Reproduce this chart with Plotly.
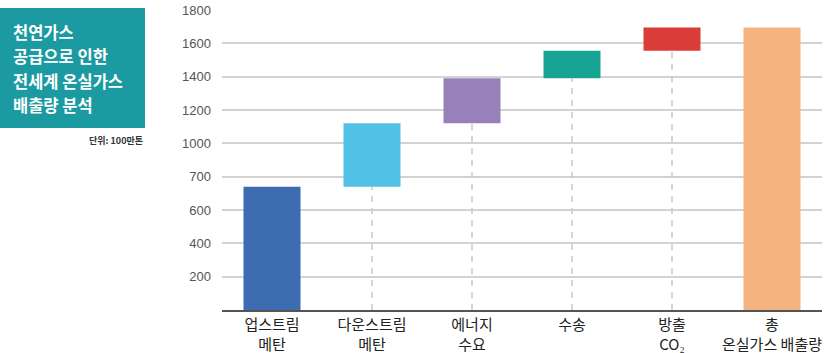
import plotly.graph_objects as go

categories = ["업스트림<br>메탄", "다운스트림<br>메탄", "에너지<br>수요", "수송", "방출<br>CO₂", "총<br>온실가스 배출량"]
steps = [740, 380, 270, 165, 140]
colors = ["#3e6cb0", "#50c0e4", "#9881b8", "#17a494", "#da3d39", "#f5b37f"]
tick_vals = [200, 400, 600, 800, 1000, 1200, 1400, 1600, 1800]
tick_text = ["200", "400", "600", "700", "1000", "1200", "1400", "1600", "1800"]
title_lines = ["천연가스", "공급으로 인한", "전세계 온실가스", "배출량 분석"]

bases = []
acc = 0
for s in steps:
    bases.append(acc)
    acc += s
total = acc
heights = steps + [total]
bar_bases = bases + [0]

fig = go.Figure()

fig.add_trace(go.Bar(
    x=categories, y=heights, base=bar_bases,
    marker=dict(color=colors, line=dict(width=0)),
    width=0.57, showlegend=False))

# dashed connectors from each floating bar's base down to zero
for i in range(1, len(steps)):
    fig.add_trace(go.Scatter(
        x=[categories[i], categories[i]], y=[0, bases[i]],
        mode="lines", line=dict(color="#c9c9c9", width=1.5, dash="6px,6px"),
        hoverinfo="skip", showlegend=False))

L, R, T, B = 222, 8, 10, 43
W, H = 830, 353
pw, ph = W - L - R, H - T - B

def px(x):
    return (x - L) / pw

def py(y):
    return (H - B - y) / ph

fig.add_shape(type="rect", xref="paper", yref="paper",
              x0=px(0), x1=px(145), y0=py(128), y1=py(8),
              fillcolor="#1b9aa1", line=dict(width=0), layer="above")
for k, line in enumerate(title_lines):
    fig.add_annotation(xref="paper", yref="paper", x=px(11), y=py(32 + 24.3 * k),
                       xanchor="left", yanchor="middle", align="left", showarrow=False,
                       text="<b>" + line + "</b>",
                       font=dict(family="Noto Sans CJK KR", size=16.5, color="white"))
fig.add_annotation(xref="paper", yref="paper", x=px(145), y=py(140),
                   xanchor="right", yanchor="middle", showarrow=False,
                   text="<b>단위: 100만톤</b>",
                   font=dict(family="Noto Sans CJK KR", size=9, color="#333"))

fig.update_layout(
    width=W, height=H,
    margin=dict(l=L, r=R, t=T, b=B),
    paper_bgcolor="white", plot_bgcolor="white",
    font=dict(family="Noto Sans CJK KR", color="#222"),
    xaxis=dict(range=[-0.5, 5.5], categoryorder="array", categoryarray=categories,
               showgrid=False, showline=True, linecolor="#555",
               linewidth=2, ticks="", tickfont=dict(size=15, color="#222"),
               ticklabelstandoff=0, automargin=False, fixedrange=True),
    yaxis=dict(range=[0, 1800], tickvals=tick_vals, ticktext=tick_text,
               showgrid=True, gridcolor="#d3d3d3", gridwidth=1.5,
               zeroline=False, showline=False, ticks="",
               ticklabelstandoff=10, automargin=False,
               tickfont=dict(family="Liberation Sans", size=13, color="#555"),
               fixedrange=True),
)

fig.write_html("out.html")
